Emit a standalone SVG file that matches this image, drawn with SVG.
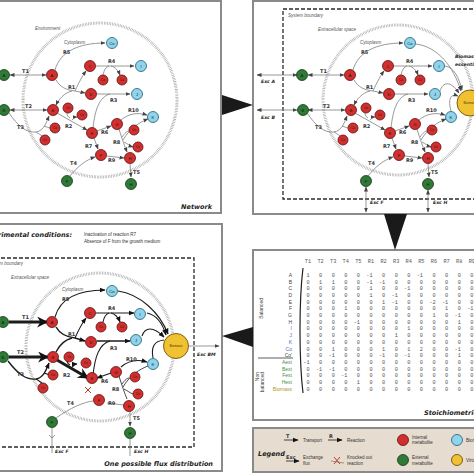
<svg xmlns="http://www.w3.org/2000/svg" width="474" height="474" viewBox="0 0 474 474">
<defs>
<marker id="ah" viewBox="0 0 10 10" refX="9" refY="5" markerWidth="5" markerHeight="5" markerUnits="userSpaceOnUse" orient="auto-start-reverse"><path d="M0,1L10,5L0,9z" fill="#444"/></marker>
<marker id="ahk" viewBox="0 0 10 10" refX="9" refY="5" markerWidth="6" markerHeight="6" markerUnits="userSpaceOnUse" orient="auto-start-reverse"><path d="M0,1L10,5L0,9z" fill="#111"/></marker>
<marker id="ahB" viewBox="0 0 10 10" refX="9" refY="5" markerWidth="14" markerHeight="11" markerUnits="userSpaceOnUse" orient="auto"><path d="M0,0L10,5L0,10L3,5z" fill="#111"/></marker>
<style>
.pb{fill:#fff;stroke:#8a8a8a;stroke-width:2}
.cy{fill:none;stroke:#a0a0a0;stroke-width:3;stroke-dasharray:.6 1}
.sb{fill:none;stroke:#2a2a2a;stroke-width:1.3;stroke-dasharray:4 2}
.c{fill:none;stroke:#7d7d7d;stroke-width:.8}
.k{fill:none;stroke:#1c1c1c;stroke-width:1.1}
.e{marker-end:url(#ah)}
.b{marker-start:url(#ah);marker-end:url(#ah)}
.ke{marker-end:url(#ahk)}
.kb{marker-start:url(#ahk);marker-end:url(#ahk)}
.rl{font-family:"DejaVu Sans",sans-serif;font-size:5px;font-weight:bold;fill:#333}
.it{font-family:"Liberation Sans",sans-serif;font-size:4.5px;font-style:italic;fill:#555}
.ti{font-family:"DejaVu Sans",sans-serif;font-size:6.5px;font-weight:bold;font-style:italic;fill:#222}
.ex{font-family:"DejaVu Sans",sans-serif;font-size:4.6px;font-weight:bold;font-style:italic;fill:#222}
.nd text{font-family:"Liberation Sans",sans-serif;font-size:4.2px;text-anchor:middle;fill:#1a1a1a}
.sm text{font-size:3.2px}
.red circle{fill:#d32f2f;stroke:#5c1010;stroke-width:.8}
.grn circle{fill:#2e7a36;stroke:#113a16;stroke-width:.8}
.cyn circle{fill:#8fd4ea;stroke:#1f5c77;stroke-width:.8}
.yel circle{fill:#f0c232;stroke:#6e5410;stroke-width:.9}
.yel text{font-size:3.4px;fill:#4a3800}
.mx{font-family:"Liberation Mono",monospace;font-size:5.25px;fill:#555;white-space:pre}
.rw{font-family:"Liberation Sans",sans-serif;font-size:5px;text-anchor:end;fill:#444}
.lg{font-family:"Liberation Sans",sans-serif;font-size:4.5px;fill:#333}
</style>
</defs>
<rect width="474" height="474" fill="#fff"/>

<!-- panel frames -->
<rect class="pb" x="-2" y="1" width="223" height="212"/>
<rect class="pb" x="253" y="1" width="230" height="213"/>
<rect class="pb" x="-2" y="224" width="224" height="247"/>
<rect class="pb" x="253" y="250" width="230" height="170"/>
<rect x="253" y="428" width="230" height="44" fill="#e6dccf" stroke="#8a8a8a" stroke-width="2"/>

<!-- big flow triangles -->
<polygon points="222,95 253,105 222,115" fill="#1a1a1a"/>
<polygon points="384,214 407,214 395,250" fill="#1a1a1a"/>
<polygon points="253,327 253,347 222,336" fill="#1a1a1a"/>

<!-- ============ PANEL 1: Network ============ -->
<g id="panel1">
<circle class="cy" cx="100" cy="100" r="77"/>
<text class="it" x="35" y="30">Environment</text>
<text class="it" x="64" y="44">Cytoplasm</text>
<g id="p1-connectors">
<path class="c b" d="M10,75 L46,75"/>
<path class="c b" d="M10,110 L47,110"/>
<path class="c e" d="M9,113 C18,126 26,133 36,132 C44,131 47,121 49,116"/>
<path class="c" d="M36,132 C39,134 41,135 42,136"/>
<path class="c" d="M44,126 C47,127 49,128 50,128"/>
<path class="c e" d="M55,70 C60,52 78,43 105,43"/>
<path class="c e" d="M56,80 C60,87 66,90 75,91 L85,93"/>
<path class="c e" d="M75,91 C79,82 83,75 86,71"/>
<path class="c e" d="M72,91 C64,93 59,99 56,105"/>
<path class="c e" d="M96,66 L134,66"/>
<path class="c" d="M103,75 C104,70 106,67 109,66"/>
<path class="c e" d="M111,66 C115,67 118,70 120,75"/>
<path class="c e" d="M97,94 L130,94"/>
<path class="c" d="M93,128 C95,110 99,97 110,94"/>
<path class="c e" d="M57,113 L87,130"/>
<path class="c e" d="M72,120 C74,118 76,117 77,117"/>
<path class="c" d="M67,113 C67,115 68,117 70,118"/>
<path class="c e" d="M97,131 L111,126"/>
<path class="c e" d="M121,120 C128,114 137,112 147,115"/>
<path class="c e" d="M119,129 C122,139 125,147 127,152"/>
<path class="c" d="M122,137 C125,133 127,131 129,131"/>
<path class="c e" d="M124,142 C128,144 130,146 133,147"/>
<path class="c e" d="M123,140 C130,128 140,122 148,119"/>
<path class="c e" d="M94,138 L98,149"/>
<path class="c e" d="M107,156 L124,158"/>
<path class="c e" d="M70,176 C78,166 86,160 95,157"/>
<path class="c e" d="M130,164 L131,177"/>
</g>
<g class="rl">
<text x="22" y="73">T1</text><text x="25" y="108">T2</text><text x="17" y="129">T3</text>
<text x="63" y="54">R5</text><text x="108" y="63">R4</text><text x="68" y="89">R1</text>
<text x="110" y="102">R3</text><text x="128" y="112">R10</text><text x="65" y="128">R2</text>
<text x="101" y="134">R6</text><text x="85" y="148">R7</text><text x="113" y="144">R8</text>
<text x="108" y="162">R9</text><text x="70" y="165">T4</text><text x="133" y="174">T5</text>
</g>
<g id="p1-Aext" class="nd grn"><circle cx="4" cy="75" r="5.5"/><text x="4" y="76.5">A</text></g>
<g id="p1-Bext" class="nd grn"><circle cx="4" cy="110" r="5.5"/><text x="4" y="111.5">B</text></g>
<g id="p1-A" class="nd red"><circle cx="52" cy="75" r="5.5"/><text x="52" y="76.5">A</text></g>
<g id="p1-B" class="nd red"><circle cx="53" cy="110" r="5.5"/><text x="53" y="111.5">B</text></g>
<g id="p1-C" class="nd red"><circle cx="90" cy="66" r="5.5"/><text x="90" y="67.5">C</text></g>
<g id="p1-D" class="nd red"><circle cx="91" cy="94" r="5.5"/><text x="91" y="95.5">D</text></g>
<g id="p1-E" class="nd red"><circle cx="92" cy="133" r="5.5"/><text x="92" y="134.5">E</text></g>
<g id="p1-F" class="nd red"><circle cx="101" cy="155" r="5.5"/><text x="101" y="156.5">F</text></g>
<g id="p1-G" class="nd red"><circle cx="117" cy="124" r="5.5"/><text x="117" y="125.5">G</text></g>
<g id="p1-H" class="nd red"><circle cx="130" cy="158" r="5.5"/><text x="130" y="159.5">H</text></g>
<g id="p1-Co1" class="nd red sm"><circle cx="103" cy="80" r="5"/><text x="103" y="81.2">Co</text></g>
<g id="p1-Cp1" class="nd red sm"><circle cx="122" cy="80" r="5"/><text x="122" y="81.2">Co'</text></g>
<g id="p1-Co2" class="nd red sm"><circle cx="68" cy="108" r="5"/><text x="68" y="109.2">Co</text></g>
<g id="p1-Cp2" class="nd red sm"><circle cx="82" cy="115" r="5"/><text x="82" y="116.2">Co'</text></g>
<g id="p1-Co3" class="nd red sm"><circle cx="55" cy="128" r="5"/><text x="55" y="129.2">Co</text></g>
<g id="p1-Cp3" class="nd red sm"><circle cx="45" cy="140" r="5"/><text x="45" y="141.2">Co'</text></g>
<g id="p1-Co4" class="nd red sm"><circle cx="134" cy="130" r="5"/><text x="134" y="131.2">Co</text></g>
<g id="p1-Cp4" class="nd red sm"><circle cx="138" cy="147" r="5"/><text x="138" y="148.2">Co'</text></g>
<g id="p1-CoT" class="nd cyn"><circle cx="112" cy="43" r="5.5"/><text x="112" y="44.5">Co</text></g>
<g id="p1-I" class="nd cyn"><circle cx="141" cy="66" r="5.5"/><text x="141" y="67.5">I</text></g>
<g id="p1-J" class="nd cyn"><circle cx="137" cy="94" r="5.5"/><text x="137" y="95.5">J</text></g>
<g id="p1-K" class="nd cyn"><circle cx="153" cy="117" r="5.5"/><text x="153" y="118.5">K</text></g>
<g id="p1-Fext" class="nd grn"><circle cx="67" cy="181" r="5.5"/><text x="67" y="182.5">F</text></g>
<g id="p1-Hext" class="nd grn"><circle cx="131" cy="184" r="5.5"/><text x="131" y="185.5">H</text></g>
<text class="ti" x="212" y="209" text-anchor="end">Network</text>
</g>

<!-- ============ PANEL 2: System boundary ============ -->
<g id="panel2">
<rect class="sb" x="283" y="9" width="200" height="190"/>
<text class="it" x="288" y="17">System boundary</text>
<g id="p2-exchange">
<path class="c b" d="M297,75 L257,75"/>
<path class="c b" d="M297,110 L257,110"/>
<path class="c b" d="M366,187 L366,212"/>
<path class="c b" d="M428,190 L428,212"/>
</g>
<g class="ex"><text x="261" y="83">Exc A</text><text x="261" y="119">Exc B</text><text x="370" y="204">Exc F</text><text x="433" y="204">Exc H</text></g>
<g transform="translate(298,0)">
<circle class="cy" cx="100" cy="100" r="75"/>
<text class="it" x="20" y="31">Extracellular space</text>
<text class="it" x="62" y="44">Cytoplasm</text>
<g id="p2-connectors">
<path class="c b" d="M10,75 L46,75"/>
<path class="c b" d="M10,110 L47,110"/>
<path class="c e" d="M9,113 C18,126 26,133 36,132 C44,131 47,121 49,116"/>
<path class="c" d="M36,132 C39,134 41,135 42,136"/>
<path class="c" d="M44,126 C47,127 49,128 50,128"/>
<path class="c e" d="M55,70 C60,52 78,43 105,43"/>
<path class="c e" d="M56,80 C60,87 66,90 75,91 L85,93"/>
<path class="c e" d="M75,91 C79,82 83,75 86,71"/>
<path class="c e" d="M72,91 C64,93 59,99 56,105"/>
<path class="c e" d="M96,66 L134,66"/>
<path class="c" d="M103,75 C104,70 106,67 109,66"/>
<path class="c e" d="M111,66 C115,67 118,70 120,75"/>
<path class="c e" d="M97,94 L130,94"/>
<path class="c" d="M93,128 C95,110 99,97 110,94"/>
<path class="c e" d="M57,113 L87,130"/>
<path class="c e" d="M72,120 C74,118 76,117 77,117"/>
<path class="c" d="M67,113 C67,115 68,117 70,118"/>
<path class="c e" d="M97,131 L111,126"/>
<path class="c e" d="M121,120 C128,114 137,112 147,115"/>
<path class="c e" d="M119,129 C122,139 125,147 127,152"/>
<path class="c" d="M122,137 C125,133 127,131 129,131"/>
<path class="c e" d="M124,142 C128,144 130,146 133,147"/>
<path class="c e" d="M123,140 C130,128 140,122 148,119"/>
<path class="c e" d="M94,138 L98,149"/>
<path class="c e" d="M107,156 L124,158"/>
<path class="c e" d="M70,176 C78,166 86,160 95,157"/>
<path class="c e" d="M130,164 L131,177"/>
<path class="c e" d="M118,44 C140,47 155,66 163,91"/>
<path class="c e" d="M147,66 C156,67 161,78 164,90"/>
<path class="c e" d="M142,91 C145,82 152,80 161,93"/>
<path class="c e" d="M153,111 C150,100 152,93 160,96"/>
</g>
<g class="rl">
<text x="22" y="73">T1</text><text x="25" y="108">T2</text><text x="17" y="129">T3</text>
<text x="63" y="54">R5</text><text x="108" y="63">R4</text><text x="68" y="89">R1</text>
<text x="110" y="102">R3</text><text x="128" y="112">R10</text><text x="65" y="128">R2</text>
<text x="101" y="134">R6</text><text x="85" y="148">R7</text><text x="113" y="144">R8</text>
<text x="108" y="162">R9</text><text x="70" y="165">T4</text><text x="133" y="174">T5</text>
</g>
<g id="p2-Aext" class="nd grn"><circle cx="4" cy="75" r="5.5"/><text x="4" y="76.5">A</text></g>
<g id="p2-Bext" class="nd grn"><circle cx="5" cy="110" r="5.5"/><text x="5" y="111.5">B</text></g>
<g id="p2-A" class="nd red"><circle cx="52" cy="75" r="5.5"/><text x="52" y="76.5">A</text></g>
<g id="p2-B" class="nd red"><circle cx="53" cy="110" r="5.5"/><text x="53" y="111.5">B</text></g>
<g id="p2-C" class="nd red"><circle cx="90" cy="66" r="5.5"/><text x="90" y="67.5">C</text></g>
<g id="p2-D" class="nd red"><circle cx="91" cy="94" r="5.5"/><text x="91" y="95.5">D</text></g>
<g id="p2-E" class="nd red"><circle cx="92" cy="133" r="5.5"/><text x="92" y="134.5">E</text></g>
<g id="p2-F" class="nd red"><circle cx="101" cy="155" r="5.5"/><text x="101" y="156.5">F</text></g>
<g id="p2-G" class="nd red"><circle cx="117" cy="124" r="5.5"/><text x="117" y="125.5">G</text></g>
<g id="p2-H" class="nd red"><circle cx="130" cy="158" r="5.5"/><text x="130" y="159.5">H</text></g>
<g id="p2-Co1" class="nd red sm"><circle cx="103" cy="80" r="5"/><text x="103" y="81.2">Co</text></g>
<g id="p2-Cp1" class="nd red sm"><circle cx="122" cy="80" r="5"/><text x="122" y="81.2">Co'</text></g>
<g id="p2-Co2" class="nd red sm"><circle cx="68" cy="108" r="5"/><text x="68" y="109.2">Co</text></g>
<g id="p2-Cp2" class="nd red sm"><circle cx="82" cy="115" r="5"/><text x="82" y="116.2">Co'</text></g>
<g id="p2-Co3" class="nd red sm"><circle cx="55" cy="128" r="5"/><text x="55" y="129.2">Co</text></g>
<g id="p2-Cp3" class="nd red sm"><circle cx="45" cy="140" r="5"/><text x="45" y="141.2">Co'</text></g>
<g id="p2-Co4" class="nd red sm"><circle cx="134" cy="130" r="5"/><text x="134" y="131.2">Co</text></g>
<g id="p2-Cp4" class="nd red sm"><circle cx="138" cy="147" r="5"/><text x="138" y="148.2">Co'</text></g>
<g id="p2-CoT" class="nd cyn"><circle cx="112" cy="43" r="5.5"/><text x="112" y="44.5">Co</text></g>
<g id="p2-I" class="nd cyn"><circle cx="141" cy="66" r="5.5"/><text x="141" y="67.5">I</text></g>
<g id="p2-J" class="nd cyn"><circle cx="137" cy="94" r="5.5"/><text x="137" y="95.5">J</text></g>
<g id="p2-K" class="nd cyn"><circle cx="153" cy="117" r="5.5"/><text x="153" y="118.5">K</text></g>
<g id="p2-Fext" class="nd grn"><circle cx="68" cy="181" r="5.5"/><text x="68" y="182.5">F</text></g>
<g id="p2-Hext" class="nd grn"><circle cx="130" cy="184" r="5.5"/><text x="130" y="185.5">H</text></g>
<g id="p2-Biomass" class="nd yel"><circle cx="172" cy="103" r="13"/><text x="172" y="104.3">Biomass</text></g>
<text class="ex" x="157" y="58">Biomass</text>
<text class="ex" x="157" y="66">essential</text>
</g>
</g>

<!-- ============ PANEL 3: Flux distribution ============ -->
<g id="panel3">
<text class="ti" x="72" y="237" text-anchor="end" font-size="5.6">Experimental conditions:</text>
<text class="lg" x="84" y="236">Inactivation of reaction R7</text>
<text class="lg" x="84" y="243">Absence of F from the growth medium</text>
<rect class="sb" x="-5" y="258" width="199" height="189"/>
<text class="it" x="-12" y="265">System boundary</text>
<g id="p3-exchange">
<path class="c e" d="M189,346 L219,346"/>
<path class="c" d="M52,428 L52,453 M49,435 L52,438 L55,435"/>
<path class="c" d="M130,439 L130,456"/>
</g>
<g class="ex"><text x="197" y="356">Exc BM</text><text x="55" y="453">Exc F</text><text x="134" y="453">Exc H</text></g>
<g transform="translate(0,247)">
<circle class="cy" cx="100" cy="100" r="74"/>
<text class="it" x="11" y="32">Extracellular space</text>
<text class="it" x="62" y="44">Cytoplasm</text>
<g id="p3-connectors">
<path class="k" style="stroke-width:2.8;marker-end:url(#ahB)" d="M9,75 L47,75"/>
<path class="k" style="stroke-width:3;marker-end:url(#ahB)" d="M9,110 L48,110"/>
<path class="k ke" style="stroke-width:1.4" d="M8,114 C18,127 26,133 36,132 C44,131 47,121 49,116"/>
<path class="k" d="M36,132 C39,134 41,135 42,136"/>
<path class="k" d="M44,126 C47,127 49,128 50,128"/>
<path class="k ke" d="M55,70 C60,52 78,43 105,43"/>
<path class="k ke" style="stroke-width:1.5" d="M56,80 C60,87 66,90 75,91 L85,94"/>
<path class="k ke" d="M75,91 C79,82 83,75 86,71"/>
<path class="k" style="stroke-width:1.4" d="M72,91 C64,93 59,99 56,105"/>
<path class="k ke" d="M96,66 L134,66"/>
<path class="k" d="M103,75 C104,70 106,67 109,66"/>
<path class="k ke" d="M111,66 C115,67 118,70 120,75"/>
<path class="k ke" style="stroke-width:1.4" d="M97,94 L130,94"/>
<path class="k" d="M93,128 C95,110 99,97 110,94"/>
<path class="k" style="stroke-width:3;marker-end:url(#ahB)" d="M57,113 L88,131"/>
<path class="k ke" d="M72,120 C74,118 76,117 77,117"/>
<path class="k" d="M67,113 C67,115 68,117 70,118"/>
<path class="k ke" d="M111,126 L97,131"/>
<path class="k ke" d="M121,120 C128,114 137,112 147,115"/>
<path class="k" style="stroke-width:.8" d="M119,129 C122,139 125,147 127,152"/>
<path class="k" style="stroke-width:.8" d="M122,137 C125,133 127,131 129,131"/>
<path class="k" style="stroke-width:.8" d="M124,142 C128,144 130,146 133,147"/>
<path class="k" style="stroke-width:.8" d="M123,140 C130,128 140,122 148,119"/>
<path class="c" d="M107,156 L124,158"/>
<path class="c" d="M56,171 C70,161 84,155 93,154"/>
<path class="c e" d="M130,164 L130,179"/>
<path class="k ke" d="M118,44 C140,47 160,66 168,87"/>
<path class="k ke" d="M147,66 C157,68 163,78 166,88"/>
<path class="k ke" d="M142,89 C145,80 153,79 164,90"/>
<path class="k" d="M153,111 C151,100 154,94 164,93"/>
</g>
<g id="p3-knockout" stroke="#c43a2a" stroke-width="1" fill="none"><path d="M85,140 L91,146 M91,140 L85,146"/></g>
<g class="rl">
<text x="22" y="72">T1</text><text x="17" y="107">T2</text><text x="17" y="129">T3</text>
<text x="62" y="54">R5</text><text x="108" y="63">R4</text><text x="68" y="89">R1</text>
<text x="110" y="103">R3</text><text x="126" y="114">R10</text><text x="63" y="130">R2</text>
<text x="101" y="136">R6</text><text x="112" y="144">R8</text>
<text x="108" y="158">R9</text><text x="67" y="158">T4</text><text x="133" y="173">T5</text>
</g>
<g id="p3-Aext" class="nd grn"><circle cx="3" cy="75" r="5.5"/><text x="3" y="76.5">A</text></g>
<g id="p3-Bext" class="nd grn"><circle cx="3" cy="110" r="5.5"/><text x="3" y="111.5">B</text></g>
<g id="p3-A" class="nd red"><circle cx="52" cy="75" r="5.5"/><text x="52" y="76.5">A</text></g>
<g id="p3-B" class="nd red"><circle cx="53" cy="110" r="5.5"/><text x="53" y="111.5">B</text></g>
<g id="p3-C" class="nd red"><circle cx="90" cy="66" r="5.5"/><text x="90" y="67.5">C</text></g>
<g id="p3-D" class="nd red"><circle cx="91" cy="95" r="5.5"/><text x="91" y="96.5">D</text></g>
<g id="p3-E" class="nd red"><circle cx="92" cy="131" r="5.5"/><text x="92" y="132.5">E</text></g>
<g id="p3-F" class="nd red"><circle cx="99" cy="153" r="5.5"/><text x="99" y="154.5">F</text></g>
<g id="p3-G" class="nd red"><circle cx="116" cy="125" r="5.5"/><text x="116" y="126.5">G</text></g>
<g id="p3-H" class="nd red"><circle cx="129" cy="159" r="5.5"/><text x="129" y="160.5">H</text></g>
<g id="p3-Co1" class="nd red sm"><circle cx="101" cy="80" r="5"/><text x="101" y="81.2">Co</text></g>
<g id="p3-Cp1" class="nd red sm"><circle cx="122" cy="80" r="5"/><text x="122" y="81.2">Co'</text></g>
<g id="p3-Co2" class="nd red sm"><circle cx="69" cy="110" r="5"/><text x="69" y="111.2">Co</text></g>
<g id="p3-Cp2" class="nd red sm"><circle cx="86" cy="116" r="5"/><text x="86" y="117.2">Co'</text></g>
<g id="p3-Co3" class="nd red sm"><circle cx="53" cy="128" r="5"/><text x="53" y="129.2">Co</text></g>
<g id="p3-Cp3" class="nd red sm"><circle cx="43" cy="141" r="5"/><text x="43" y="142.2">Co'</text></g>
<g id="p3-Co4" class="nd red sm"><circle cx="135" cy="130" r="5"/><text x="135" y="131.2">Co</text></g>
<g id="p3-Cp4" class="nd red sm"><circle cx="138" cy="147" r="5"/><text x="138" y="148.2">Co'</text></g>
<g id="p3-CoT" class="nd cyn"><circle cx="112" cy="44" r="5.5"/><text x="112" y="45.5">Co</text></g>
<g id="p3-I" class="nd cyn"><circle cx="140" cy="67" r="5.5"/><text x="140" y="68.5">I</text></g>
<g id="p3-J" class="nd cyn"><circle cx="136" cy="93" r="5.5"/><text x="136" y="94.5">J</text></g>
<g id="p3-K" class="nd cyn"><circle cx="153" cy="117" r="5.5"/><text x="153" y="118.5">K</text></g>
<g id="p3-Fext" class="nd grn"><circle cx="52" cy="175" r="5.5"/><text x="52" y="176.5">F</text></g>
<g id="p3-Hext" class="nd grn"><circle cx="130" cy="186" r="5.5"/><text x="130" y="187.5">H</text></g>
<g id="p3-Biomass" class="nd yel"><circle cx="176" cy="99" r="12.5"/><text x="176" y="100.3">Biomass</text></g>
</g>
<text class="ti" x="213" y="466" text-anchor="end">One possible flux distribution</text>
</g>

<!-- ============ PANEL 4: Stoichiometric matrix ============ -->
<g id="panel4">
<text class="mx" x="298.5" y="263" xml:space="preserve">  T1  T2  T3  T4  T5  R1  R2  R3  R4  R5  R6  R7  R8  R9</text>
<g class="rw">
<text x="292" y="276.8">A</text><text x="292" y="283.5">B</text><text x="292" y="290.2">C</text>
<text x="292" y="296.9">D</text><text x="292" y="303.6">E</text><text x="292" y="310.3">F</text>
<text x="292" y="317">G</text><text x="292" y="323.7">H</text>
<text x="292" y="330.4" fill="#4a6fb5">I</text><text x="292" y="337.1" fill="#4a6fb5">J</text>
<text x="292" y="343.8" fill="#4a6fb5">K</text><text x="292" y="350.5" fill="#4a6fb5">Co</text>
<text x="292" y="357.2">Co'</text>
<text x="292" y="363.9" fill="#3f8f3f">Aext</text><text x="292" y="370.6" fill="#3f8f3f">Bext</text>
<text x="292" y="377.3" fill="#3f8f3f">Fext</text><text x="292" y="384" fill="#3f8f3f">Hext</text>
<text x="292" y="390.7" fill="#b0961e">Biomass</text>
</g>
<g id="matrix-values">
<text class="mx" xml:space="preserve" x="297" y="276.8">   1   0   0   0   0  -1   0   0   0  -1   0   0   0   0</text>
<text class="mx" xml:space="preserve" x="297" y="283.5">   0   1   1   0   0  -1  -1   0   0   0   0   0   0   0</text>
<text class="mx" xml:space="preserve" x="297" y="290.2">   0   0   0   0   0   1   0   0  -1   0   0   0   0   0</text>
<text class="mx" xml:space="preserve" x="297" y="296.9">   0   0   0   0   0   1   0  -1   0   0   0   0   0   0</text>
<text class="mx" xml:space="preserve" x="297" y="303.6">   0   0   0   0   0   0   1  -1   0   0  -2  -1   0   0</text>
<text class="mx" xml:space="preserve" x="297" y="310.3">   0   0   0   1   0   0   0   0   0   0   0   1   0  -1</text>
<text class="mx" xml:space="preserve" x="297" y="317">   0   0   0   0   0   0   0   0   0   0   1   0  -1   0</text>
<text class="mx" xml:space="preserve" x="297" y="323.7">   0   0   0   0  -1   0   0   0   0   0   0   0   1   0</text>
<text class="mx" xml:space="preserve" x="297" y="330.4">   0   0   0   0   0   0   0   0   1   0   0   0   0   0</text>
<text class="mx" xml:space="preserve" x="297" y="337.1">   0   0   0   0   0   0   0   1   0   0   0   0   0   0</text>
<text class="mx" xml:space="preserve" x="297" y="343.8">   0   0   0   0   0   0   0   0   0   0   0   0   0   0</text>
<text class="mx" xml:space="preserve" x="297" y="350.5">   0   0   1   0   0   0   1   0   1   2   0   0  -1   0</text>
<text class="mx" xml:space="preserve" x="297" y="357.2">   0   0  -1   0   0   0  -1   0  -1   0   0   0   1   0</text>
<text class="mx" xml:space="preserve" x="297" y="363.9">  -1   0   0   0   0   0   0   0   0   0   0   0   0   0</text>
<text class="mx" xml:space="preserve" x="297" y="370.6">   0  -1  -1   0   0   0   0   0   0   0   0   0   0   0</text>
<text class="mx" xml:space="preserve" x="297" y="377.3">   0   0   0  -1   0   0   0   0   0   0   0   0   0   0</text>
<text class="mx" xml:space="preserve" x="297" y="384">   0   0   0   0   1   0   0   0   0   0   0   0   0   0</text>
<text class="mx" xml:space="preserve" x="297" y="390.7">   0   0   0   0   0   0   0   0   0   0   0   0   0   0</text>
</g>
<path d="M303,268 C299,300 299,360 303,393" fill="none" stroke="#222" stroke-width="1.2"/>
<path d="M258,358 L293,358" stroke="#333" stroke-width="0.8"/>
<text class="rw" transform="translate(263,298) rotate(-90)" text-anchor="middle" font-size="4.5">Balanced</text>
<text class="rw" transform="translate(259,372) rotate(-90)" text-anchor="middle" font-size="4">Non</text>
<text class="rw" transform="translate(263.5,372) rotate(-90)" text-anchor="middle" font-size="4">balanced</text>
<text class="ti" x="424" y="415" font-size="7">Stoichiometric matrix</text>
</g>

<!-- ============ Legend ============ -->
<g id="legend">
<text class="ti" x="258" y="456" font-size="5.5">Legend</text>
<g id="lg-transport"><text class="rl" x="286" y="438" font-size="4.5">T</text><path class="k ke" d="M284,440 L298,440" style="stroke-width:.8"/><text class="lg" x="303" y="441.5">Transport</text></g>
<g id="lg-reaction"><text class="rl" x="329" y="438" font-size="4.5">R</text><path class="k ke" d="M328,440 L342,440" style="stroke-width:.8"/><text class="lg" x="347" y="441.5">Reaction</text></g>
<g id="lg-internal" class="nd red"><circle cx="403" cy="440" r="5.5"/></g>
<text class="lg" x="412" y="438.5">Internal</text><text class="lg" x="412" y="444">metabolite</text>
<g id="lg-biomass-prec" class="nd cyn"><circle cx="457" cy="440" r="5.5"/></g>
<text class="lg" x="466" y="441.5">Biomass precursor</text>
<g id="lg-exchange"><text class="rl" x="286" y="459" font-size="4.5">Exc</text><path class="k ke" d="M286,461 L299,461" style="stroke-width:.8"/><text class="lg" x="303" y="459">Exchange</text><text class="lg" x="303" y="464.5">flux</text></g>
<g id="lg-knockout"><path class="c" d="M331,461 L344,463"/><path d="M334,457 L340,464 M340,457 L334,464" stroke="#c43a2a" stroke-width="1"/><text class="lg" x="347" y="459">Knocked out</text><text class="lg" x="347" y="464.5">reaction</text></g>
<g id="lg-external" class="nd grn"><circle cx="403" cy="460" r="5.5"/></g>
<text class="lg" x="412" y="459">External</text><text class="lg" x="412" y="464.5">metabolite</text>
<g id="lg-virtual" class="nd yel"><circle cx="457" cy="460" r="5.5"/></g>
<text class="lg" x="466" y="461.5">Virtual metabolite</text>
</g>
</svg>
